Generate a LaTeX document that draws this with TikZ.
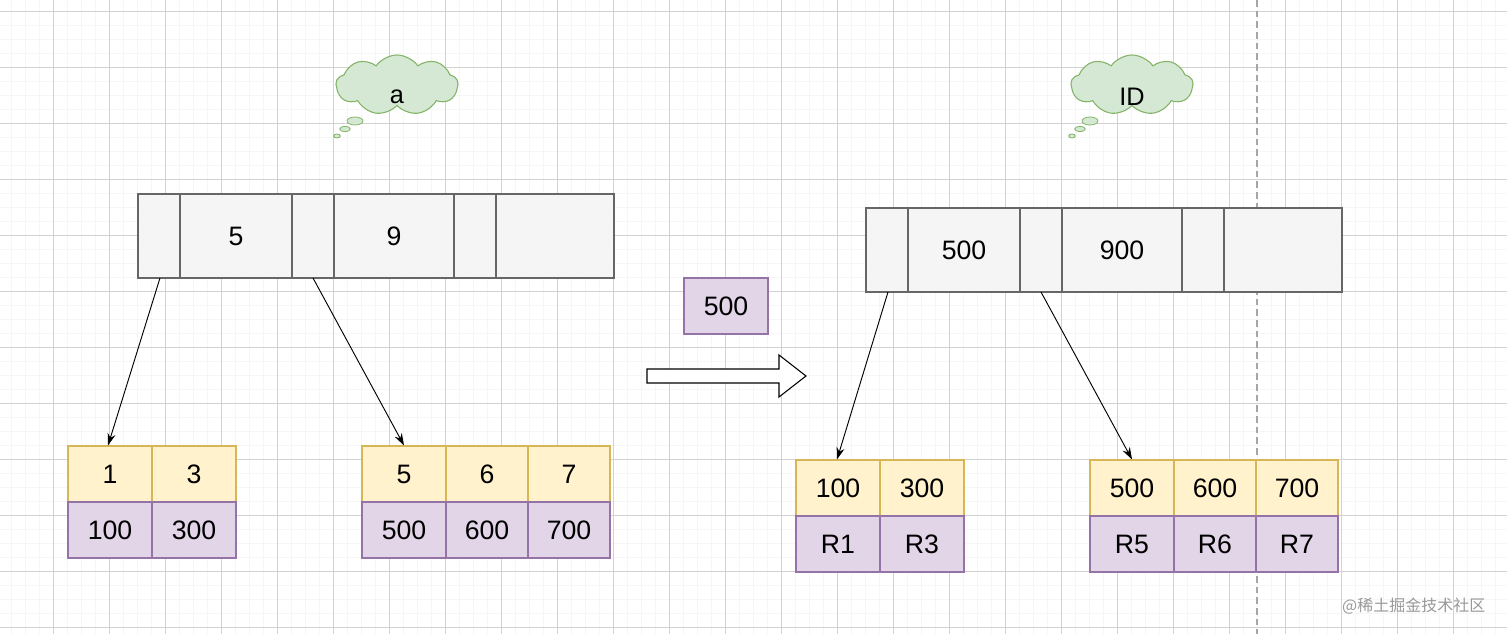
\documentclass[tikz,border=0pt]{standalone}
\usepackage{fontspec}
\setmainfont{Liberation Sans}
\newfontfamily\cjk{Noto Sans CJK SC}
\usetikzlibrary{shapes.symbols,shapes.geometric,arrows.meta}
\definecolor{gfill}{HTML}{F5F5F5}\definecolor{gline}{HTML}{666666}
\definecolor{yfill}{HTML}{FFF2CC}\definecolor{yline}{HTML}{D6B656}
\definecolor{pfill}{HTML}{E1D5E7}\definecolor{pline}{HTML}{9673A6}
\definecolor{cfill}{HTML}{D5E8D4}\definecolor{cline}{HTML}{82B366}
\newcommand\mycell[7]{\node[#1,minimum width={(#5-#3)*0.75pt},minimum height={(#6-#4)*0.75pt}] (#2) at ({(#3+#5)/2},{(#4+#6)/2}) {#7};}
\begin{document}
\begin{tikzpicture}[x=0.75pt,y=-0.75pt,
  base/.style={draw,inner sep=0pt,font=\fontsize{20}{24}\selectfont,line width=0.8pt},
  g/.style={base,fill=gfill,draw=gline},
  yc/.style={base,fill=yfill,draw=yline},
  pc/.style={base,fill=pfill,draw=pline},
  cl/.style={cloud,cloud puffs=9,cloud puff arc=110,aspect=2,draw=cline,fill=cfill,inner sep=0pt,line width=0.8pt},
  ctext/.style={font=\fontsize{19}{23}\selectfont,inner sep=0pt},
  bub/.style={ellipse,draw=cline,fill=cfill,inner sep=0pt,line width=0.6pt},
  arr/.style={-{Stealth[length=9pt,width=6pt]},line width=0.7pt}]
\useasboundingbox (0,0) rectangle (1507,634);
\fill[white] (0,0) rectangle (1507,634);
\foreach \i in {0,...,108}{\draw[gray!7,line width=0.6pt] ({-3+14*\i},0)--({-3+14*\i},634);}
\foreach \i in {0,...,46}{\draw[gray!7,line width=0.6pt] (0,{-3+14*\i})--(1507,{-3+14*\i});}
\foreach \i in {0,...,27}{\draw[gray!35,line width=0.6pt] ({-3+56*\i},0)--({-3+56*\i},634);}
\foreach \i in {0,...,11}{\draw[gray!35,line width=0.6pt] (0,{11+56*\i})--(1507,{11+56*\i});}
\draw[gray!70,line width=0.8pt,dash pattern=on 5pt off 3pt] (1257,0)--(1257,634);
% clouds
\mycell{cl}{ca}{336}{55}{458}{115}{}
\node[ctext] (ta) at (397,97) {a};
\node[bub,minimum width=12pt,minimum height=6pt] (ca1) at (355,121) {};
\node[bub,minimum width=8pt,minimum height=4pt] (ca2) at (345,129) {};
\node[bub,minimum width=5pt,minimum height=3pt] (ca3) at (337,136) {};
\mycell{cl}{cid}{1071}{55}{1193}{115}{}
\node[ctext] (tid) at (1132,97) {ID};
\node[bub,minimum width=12pt,minimum height=6pt] (cb1) at (1090,121) {};
\node[bub,minimum width=8pt,minimum height=4pt] (cb2) at (1080,129) {};
\node[bub,minimum width=5pt,minimum height=3pt] (cb3) at (1072,136) {};
% top left
\mycell{g}{l1}{138}{194}{180}{278}{}
\mycell{g}{l2}{180}{194}{292}{278}{5}
\mycell{g}{l3}{292}{194}{334}{278}{}
\mycell{g}{l4}{334}{194}{454}{278}{9}
\mycell{g}{l5}{454}{194}{496}{278}{}
\mycell{g}{l6}{496}{194}{614}{278}{}
% top right
\mycell{g}{r1}{866}{208}{908}{292}{}
\mycell{g}{r2}{908}{208}{1020}{292}{500}
\mycell{g}{r3}{1020}{208}{1062}{292}{}
\mycell{g}{r4}{1062}{208}{1182}{292}{900}
\mycell{g}{r5}{1182}{208}{1224}{292}{}
\mycell{g}{r6}{1224}{208}{1342}{292}{}
% leaves left
\mycell{yc}{a1}{68}{446}{152}{502}{1}
\mycell{yc}{a2}{152}{446}{236}{502}{3}
\mycell{pc}{a3}{68}{502}{152}{558}{100}
\mycell{pc}{a4}{152}{502}{236}{558}{300}
\mycell{yc}{b1}{362}{446}{446}{502}{5}
\mycell{yc}{b2}{446}{446}{528}{502}{6}
\mycell{yc}{b3}{528}{446}{610}{502}{7}
\mycell{pc}{b4}{362}{502}{446}{558}{500}
\mycell{pc}{b5}{446}{502}{528}{558}{600}
\mycell{pc}{b6}{528}{502}{610}{558}{700}
% leaves right
\mycell{yc}{c1}{796}{460}{880}{516}{100}
\mycell{yc}{c2}{880}{460}{964}{516}{300}
\mycell{pc}{c3}{796}{516}{880}{572}{R1}
\mycell{pc}{c4}{880}{516}{964}{572}{R3}
\mycell{yc}{d1}{1090}{460}{1174}{516}{500}
\mycell{yc}{d2}{1174}{460}{1256}{516}{600}
\mycell{yc}{d3}{1256}{460}{1338}{516}{700}
\mycell{pc}{d4}{1090}{516}{1174}{572}{R5}
\mycell{pc}{d5}{1174}{516}{1256}{572}{R6}
\mycell{pc}{d6}{1256}{516}{1338}{572}{R7}
% new key
\mycell{pc}{k}{684}{278}{768}{334}{500}
% block arrow
\draw[line width=0.8pt,fill=white] (647,369)--(779,369)--(779,355)--(806,376)--(779,397)--(779,383)--(647,383)--cycle;
% connectors
\coordinate (s1) at (160,278);\coordinate (s2) at (313,278);
\coordinate (s3) at (888,292);\coordinate (s4) at (1041,292);
\draw[arr] (s1)--(a1.north -| 108,0);
\draw[arr] (s2)--(b1.north -| 404,0);
\draw[arr] (s3)--(c1.north -| 837,0);
\draw[arr] (s4)--(d1.north -| 1132,0);
\node[text=gray!80,font=\cjk\fontsize{12}{14}\selectfont,anchor=east] (wm) at (1490,606) {@稀土掘金技术社区};
\end{tikzpicture}
\end{document}
